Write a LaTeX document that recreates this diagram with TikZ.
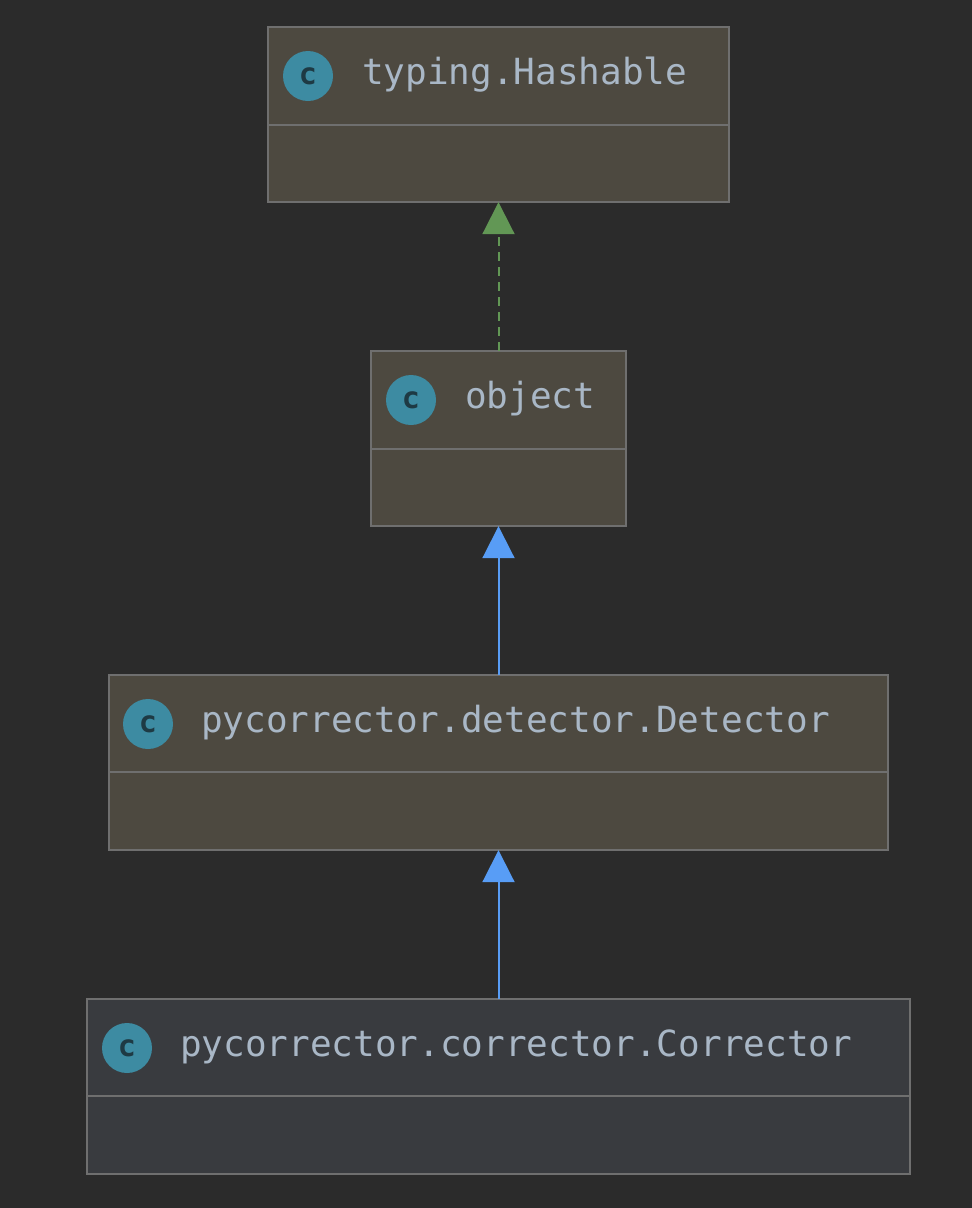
\documentclass[tikz,border=0pt]{standalone}
\usepackage{fontspec}
\newfontfamily\monofont{DejaVu Sans Mono}
\usetikzlibrary{arrows.meta}
\definecolor{bg}{HTML}{2B2B2B}
\definecolor{boxfill}{HTML}{4D4940}
\definecolor{boxfillb}{HTML}{393B3F}
\definecolor{boxline}{HTML}{6F6F6F}
\definecolor{txt}{HTML}{A9B7C6}
\definecolor{icon}{HTML}{3D8BA2}
\definecolor{icontxt}{HTML}{1E3A44}
\definecolor{green}{HTML}{629755}
\definecolor{blue}{HTML}{589DF6}
\tikzset{
  cls/.style={draw=boxline,line width=2pt},
  lbl/.style={anchor=west,text=txt,font=\monofont\fontsize{36}{40}\selectfont,inner sep=0pt},
  ic/.style={circle,fill=icon,minimum size=50pt,inner sep=0pt,text=icontxt,font=\monofont\bfseries\fontsize{30}{30}\selectfont},
  inh/.style={blue,line width=2pt,-{Triangle[length=32pt,width=32pt]}},
  impl/.style={green,line width=2pt,dashed,dash pattern=on 9pt off 6pt,-{Triangle[length=32pt,width=32pt]}}
}
\begin{document}
\begin{tikzpicture}[x=1pt,y=-1pt]
\fill[bg] (0,0) rectangle (972,1208);
\useasboundingbox (0,0) rectangle (972,1208);
% boxes
\draw[cls,fill=boxfill] (268,27) rectangle (729,202);
\draw[boxline,line width=2pt] (268,125) -- (729,125);
\node (h) at (498.5,114.5) [minimum width=461pt,minimum height=175pt,inner sep=0pt] {};
\node[ic] (hi) at (308,76) {c};
\node[lbl] (ht) at (362,75) {typing.Hashable};

\draw[cls,fill=boxfill] (371,351) rectangle (626,526);
\draw[boxline,line width=2pt] (371,449) -- (626,449);
\node (o) at (498.5,438.5) [minimum width=255pt,minimum height=175pt,inner sep=0pt] {};
\node[ic] (oi) at (411,400) {c};
\node[lbl] (ot) at (465,399) {object};

\draw[cls,fill=boxfill] (109,675) rectangle (888,850);
\draw[boxline,line width=2pt] (109,772) -- (888,772);
\node (d) at (498.5,762.5) [minimum width=779pt,minimum height=175pt,inner sep=0pt] {};
\node[ic] (di) at (148,724) {c};
\node[lbl] (dt) at (201,723) {pycorrector.detector.Detector};

\draw[cls,fill=boxfillb] (87,999) rectangle (910,1174);
\draw[boxline,line width=2pt] (87,1096) -- (910,1096);
\node (c) at (498.5,1086.5) [minimum width=823pt,minimum height=175pt,inner sep=0pt] {};
\node[ic] (ci) at (127,1048) {c};
\node[lbl] (ct) at (180,1047) {pycorrector.corrector.Corrector};

% connectors
\draw[impl] (o.north) -- (h.south);
\draw[inh] (d.north) -- (o.south);
\draw[inh] (c.north) -- (d.south);
\end{tikzpicture}
\end{document}
